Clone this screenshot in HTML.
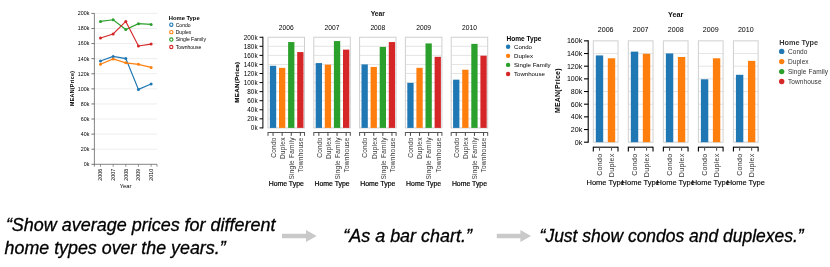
<!DOCTYPE html>
<html><head><meta charset="utf-8"><title>NL chart refinement</title>
<style>
html,body{margin:0;padding:0;background:#fff;width:830px;height:267px;overflow:hidden}
svg{display:block}
</style></head><body>
<svg width="830" height="267" viewBox="0 0 830 267" font-family="'Liberation Sans', Arial, Helvetica, sans-serif">
<g id="c1">
<line x1="91.4" y1="164.3" x2="94.4" y2="164.3" stroke="#666" stroke-width="0.9"/>
<text x="89.3" y="166.2" font-size="5.3" text-anchor="end" fill="#000">0k</text>
<line x1="94.4" y1="149.21" x2="157" y2="149.21" stroke="#e2e2e2" stroke-width="0.6"/>
<line x1="91.4" y1="149.21" x2="94.4" y2="149.21" stroke="#666" stroke-width="0.9"/>
<text x="89.3" y="151.11" font-size="5.3" text-anchor="end" fill="#000">20k</text>
<line x1="94.4" y1="134.12" x2="157" y2="134.12" stroke="#e2e2e2" stroke-width="0.6"/>
<line x1="91.4" y1="134.12" x2="94.4" y2="134.12" stroke="#666" stroke-width="0.9"/>
<text x="89.3" y="136.02" font-size="5.3" text-anchor="end" fill="#000">40k</text>
<line x1="94.4" y1="119.03" x2="157" y2="119.03" stroke="#e2e2e2" stroke-width="0.6"/>
<line x1="91.4" y1="119.03" x2="94.4" y2="119.03" stroke="#666" stroke-width="0.9"/>
<text x="89.3" y="120.93" font-size="5.3" text-anchor="end" fill="#000">60k</text>
<line x1="94.4" y1="103.94" x2="157" y2="103.94" stroke="#e2e2e2" stroke-width="0.6"/>
<line x1="91.4" y1="103.94" x2="94.4" y2="103.94" stroke="#666" stroke-width="0.9"/>
<text x="89.3" y="105.84" font-size="5.3" text-anchor="end" fill="#000">80k</text>
<line x1="94.4" y1="88.85" x2="157" y2="88.85" stroke="#e2e2e2" stroke-width="0.6"/>
<line x1="91.4" y1="88.85" x2="94.4" y2="88.85" stroke="#666" stroke-width="0.9"/>
<text x="89.3" y="90.75" font-size="5.3" text-anchor="end" fill="#000">100k</text>
<line x1="94.4" y1="73.76" x2="157" y2="73.76" stroke="#e2e2e2" stroke-width="0.6"/>
<line x1="91.4" y1="73.76" x2="94.4" y2="73.76" stroke="#666" stroke-width="0.9"/>
<text x="89.3" y="75.66" font-size="5.3" text-anchor="end" fill="#000">120k</text>
<line x1="94.4" y1="58.67" x2="157" y2="58.67" stroke="#e2e2e2" stroke-width="0.6"/>
<line x1="91.4" y1="58.67" x2="94.4" y2="58.67" stroke="#666" stroke-width="0.9"/>
<text x="89.3" y="60.57" font-size="5.3" text-anchor="end" fill="#000">140k</text>
<line x1="94.4" y1="43.58" x2="157" y2="43.58" stroke="#e2e2e2" stroke-width="0.6"/>
<line x1="91.4" y1="43.58" x2="94.4" y2="43.58" stroke="#666" stroke-width="0.9"/>
<text x="89.3" y="45.48" font-size="5.3" text-anchor="end" fill="#000">160k</text>
<line x1="94.4" y1="28.49" x2="157" y2="28.49" stroke="#e2e2e2" stroke-width="0.6"/>
<line x1="91.4" y1="28.49" x2="94.4" y2="28.49" stroke="#666" stroke-width="0.9"/>
<text x="89.3" y="30.39" font-size="5.3" text-anchor="end" fill="#000">180k</text>
<line x1="94.4" y1="13.4" x2="157" y2="13.4" stroke="#e2e2e2" stroke-width="0.6"/>
<line x1="91.4" y1="13.4" x2="94.4" y2="13.4" stroke="#666" stroke-width="0.9"/>
<text x="89.3" y="15.3" font-size="5.3" text-anchor="end" fill="#000">200k</text>
<line x1="94.4" y1="13.4" x2="94.4" y2="166.6" stroke="#666" stroke-width="0.8"/>
<line x1="94.4" y1="164.3" x2="157" y2="164.3" stroke="#666" stroke-width="0.8"/>
<line x1="100.5" y1="164.3" x2="100.5" y2="166.8" stroke="#666" stroke-width="0.7"/>
<line x1="113.15" y1="164.3" x2="113.15" y2="166.8" stroke="#666" stroke-width="0.7"/>
<line x1="125.8" y1="164.3" x2="125.8" y2="166.8" stroke="#666" stroke-width="0.7"/>
<line x1="138.45" y1="164.3" x2="138.45" y2="166.8" stroke="#666" stroke-width="0.7"/>
<line x1="151.1" y1="164.3" x2="151.1" y2="166.8" stroke="#666" stroke-width="0.7"/>
<line x1="157" y1="164.3" x2="157" y2="166.8" stroke="#666" stroke-width="0.7"/>
<text transform="translate(102.4,168.9) rotate(-90)" font-size="5.3" text-anchor="end" fill="#000">2006</text>
<text transform="translate(115.05,168.9) rotate(-90)" font-size="5.3" text-anchor="end" fill="#000">2007</text>
<text transform="translate(127.7,168.9) rotate(-90)" font-size="5.3" text-anchor="end" fill="#000">2008</text>
<text transform="translate(140.35,168.9) rotate(-90)" font-size="5.3" text-anchor="end" fill="#000">2009</text>
<text transform="translate(153,168.9) rotate(-90)" font-size="5.3" text-anchor="end" fill="#000">2010</text>
<text x="125.5" y="187.6" font-size="5.8" text-anchor="middle" fill="#000">Year</text>
<text transform="translate(73.9,88.3) rotate(-90)" font-size="5.3" letter-spacing="0.3" font-weight="bold" text-anchor="middle" fill="#000">MEAN(Price)</text>
<polyline points="100.5,60.93 113.15,56.41 125.8,58.59 138.45,89.38 151.1,84.02" fill="none" stroke="#1f77b4" stroke-width="1.15"/>
<circle cx="100.5" cy="60.93" r="1.5" fill="#1f77b4"/>
<circle cx="113.15" cy="56.41" r="1.5" fill="#1f77b4"/>
<circle cx="125.8" cy="58.59" r="1.5" fill="#1f77b4"/>
<circle cx="138.45" cy="89.38" r="1.5" fill="#1f77b4"/>
<circle cx="151.1" cy="84.02" r="1.5" fill="#1f77b4"/>
<polyline points="100.5,64.33 113.15,58.97 125.8,62.82 138.45,64.33 151.1,67.42" fill="none" stroke="#ff7f0e" stroke-width="1.15"/>
<circle cx="100.5" cy="64.33" r="1.5" fill="#ff7f0e"/>
<circle cx="113.15" cy="58.97" r="1.5" fill="#ff7f0e"/>
<circle cx="125.8" cy="62.82" r="1.5" fill="#ff7f0e"/>
<circle cx="138.45" cy="64.33" r="1.5" fill="#ff7f0e"/>
<circle cx="151.1" cy="67.42" r="1.5" fill="#ff7f0e"/>
<polyline points="100.5,21.4 113.15,19.74 125.8,29.47 138.45,23.66 151.1,24.42" fill="none" stroke="#2ca02c" stroke-width="1.15"/>
<circle cx="100.5" cy="21.4" r="1.5" fill="#2ca02c"/>
<circle cx="113.15" cy="19.74" r="1.5" fill="#2ca02c"/>
<circle cx="125.8" cy="29.47" r="1.5" fill="#2ca02c"/>
<circle cx="138.45" cy="23.66" r="1.5" fill="#2ca02c"/>
<circle cx="151.1" cy="24.42" r="1.5" fill="#2ca02c"/>
<polyline points="100.5,38.07 113.15,34 125.8,21.4 138.45,45.99 151.1,44.11" fill="none" stroke="#d62728" stroke-width="1.15"/>
<circle cx="100.5" cy="38.07" r="1.5" fill="#d62728"/>
<circle cx="113.15" cy="34" r="1.5" fill="#d62728"/>
<circle cx="125.8" cy="21.4" r="1.5" fill="#d62728"/>
<circle cx="138.45" cy="45.99" r="1.5" fill="#d62728"/>
<circle cx="151.1" cy="44.11" r="1.5" fill="#d62728"/>
<text x="168.8" y="20" font-size="5.8" font-weight="bold" fill="#000">Home Type</text>
<circle cx="171.3" cy="24.7" r="1.65" fill="none" stroke="#1f77b4" stroke-width="1.1"/>
<text x="175.7" y="26.5" font-size="5.05" fill="#000">Condo</text>
<circle cx="171.3" cy="32.13" r="1.65" fill="none" stroke="#ff7f0e" stroke-width="1.1"/>
<text x="175.7" y="33.93" font-size="5.05" fill="#000">Duplex</text>
<circle cx="171.3" cy="39.56" r="1.65" fill="none" stroke="#2ca02c" stroke-width="1.1"/>
<text x="175.7" y="41.36" font-size="5.05" fill="#000">Single Family</text>
<circle cx="171.3" cy="46.99" r="1.65" fill="none" stroke="#d62728" stroke-width="1.1"/>
<text x="175.7" y="48.79" font-size="5.05" fill="#000">Townhouse</text>
</g>
<g>
<line x1="259.5" y1="127.9" x2="262.9" y2="127.9" stroke="#000" stroke-width="1.0"/>
<text x="257.6" y="130.4" font-size="6.4" text-anchor="end" fill="#000">0k</text>
<line x1="259.5" y1="118.84" x2="262.9" y2="118.84" stroke="#000" stroke-width="1.0"/>
<text x="257.6" y="121.34" font-size="6.4" text-anchor="end" fill="#000">20k</text>
<line x1="259.5" y1="109.77" x2="262.9" y2="109.77" stroke="#000" stroke-width="1.0"/>
<text x="257.6" y="112.27" font-size="6.4" text-anchor="end" fill="#000">40k</text>
<line x1="259.5" y1="100.7" x2="262.9" y2="100.7" stroke="#000" stroke-width="1.0"/>
<text x="257.6" y="103.2" font-size="6.4" text-anchor="end" fill="#000">60k</text>
<line x1="259.5" y1="91.64" x2="262.9" y2="91.64" stroke="#000" stroke-width="1.0"/>
<text x="257.6" y="94.14" font-size="6.4" text-anchor="end" fill="#000">80k</text>
<line x1="259.5" y1="82.58" x2="262.9" y2="82.58" stroke="#000" stroke-width="1.0"/>
<text x="257.6" y="85.08" font-size="6.4" text-anchor="end" fill="#000">100k</text>
<line x1="259.5" y1="73.51" x2="262.9" y2="73.51" stroke="#000" stroke-width="1.0"/>
<text x="257.6" y="76.01" font-size="6.4" text-anchor="end" fill="#000">120k</text>
<line x1="259.5" y1="64.44" x2="262.9" y2="64.44" stroke="#000" stroke-width="1.0"/>
<text x="257.6" y="66.94" font-size="6.4" text-anchor="end" fill="#000">140k</text>
<line x1="259.5" y1="55.38" x2="262.9" y2="55.38" stroke="#000" stroke-width="1.0"/>
<text x="257.6" y="57.88" font-size="6.4" text-anchor="end" fill="#000">160k</text>
<line x1="259.5" y1="46.31" x2="262.9" y2="46.31" stroke="#000" stroke-width="1.0"/>
<text x="257.6" y="48.81" font-size="6.4" text-anchor="end" fill="#000">180k</text>
<line x1="259.5" y1="37.25" x2="262.9" y2="37.25" stroke="#000" stroke-width="1.0"/>
<text x="257.6" y="39.75" font-size="6.4" text-anchor="end" fill="#000">200k</text>
<line x1="262.9" y1="36.75" x2="262.9" y2="128.4" stroke="#000" stroke-width="1.0"/>
<text transform="translate(239.1,82.19) rotate(-90)" font-size="6.1" letter-spacing="0.38" font-weight="bold" text-anchor="middle" fill="#000" stroke="#000" stroke-width="0.15">MEAN(Price)</text>
<line x1="268" y1="118.84" x2="304.5" y2="118.84" stroke="#ddd" stroke-width="0.8"/>
<line x1="268" y1="109.77" x2="304.5" y2="109.77" stroke="#ddd" stroke-width="0.8"/>
<line x1="268" y1="100.7" x2="304.5" y2="100.7" stroke="#ddd" stroke-width="0.8"/>
<line x1="268" y1="91.64" x2="304.5" y2="91.64" stroke="#ddd" stroke-width="0.8"/>
<line x1="268" y1="82.58" x2="304.5" y2="82.58" stroke="#ddd" stroke-width="0.8"/>
<line x1="268" y1="73.51" x2="304.5" y2="73.51" stroke="#ddd" stroke-width="0.8"/>
<line x1="268" y1="64.44" x2="304.5" y2="64.44" stroke="#ddd" stroke-width="0.8"/>
<line x1="268" y1="55.38" x2="304.5" y2="55.38" stroke="#ddd" stroke-width="0.8"/>
<line x1="268" y1="46.31" x2="304.5" y2="46.31" stroke="#ddd" stroke-width="0.8"/>
<rect x="268" y="37.25" width="36.5" height="90.65" fill="none" stroke="#d0d0d0" stroke-width="1"/>
<text x="286.25" y="29.8" font-size="6.7" text-anchor="middle" fill="#000">2006</text>
<rect x="269.9" y="65.8" width="6.3" height="62.1" fill="#1f77b4"/>
<rect x="279" y="67.84" width="6.3" height="60.06" fill="#ff7f0e"/>
<rect x="288.1" y="42.05" width="6.3" height="85.85" fill="#2ca02c"/>
<rect x="297.2" y="52.07" width="6.3" height="75.83" fill="#d62728"/>
<line x1="268" y1="132.5" x2="304.5" y2="132.5" stroke="#555" stroke-width="1.0"/>
<line x1="268" y1="132" x2="268" y2="135.9" stroke="#555" stroke-width="1.0"/>
<line x1="304.5" y1="132" x2="304.5" y2="135.9" stroke="#555" stroke-width="1.0"/>
<line x1="273.05" y1="132.5" x2="273.05" y2="135.9" stroke="#444" stroke-width="1.0"/>
<line x1="282.15" y1="132.5" x2="282.15" y2="135.9" stroke="#444" stroke-width="1.0"/>
<line x1="291.25" y1="132.5" x2="291.25" y2="135.9" stroke="#444" stroke-width="1.0"/>
<line x1="300.35" y1="132.5" x2="300.35" y2="135.9" stroke="#444" stroke-width="1.0"/>
<text transform="translate(275.89,137.35) rotate(-90)" font-size="6.5" letter-spacing="0.25" text-anchor="end" fill="#333">Condo</text>
<text transform="translate(284.99,137.35) rotate(-90)" font-size="6.5" letter-spacing="0.25" text-anchor="end" fill="#333">Duplex</text>
<text transform="translate(294.09,137.35) rotate(-90)" font-size="6.5" letter-spacing="0.25" text-anchor="end" fill="#333">Single Family</text>
<text transform="translate(303.19,137.35) rotate(-90)" font-size="6.5" letter-spacing="0.25" text-anchor="end" fill="#333">Townhouse</text>
<text x="286.25" y="185.8" font-size="6.9" stroke="#000" stroke-width="0.2" text-anchor="middle" fill="#000">Home Type</text>
<line x1="313.8" y1="118.84" x2="350.3" y2="118.84" stroke="#ddd" stroke-width="0.8"/>
<line x1="313.8" y1="109.77" x2="350.3" y2="109.77" stroke="#ddd" stroke-width="0.8"/>
<line x1="313.8" y1="100.7" x2="350.3" y2="100.7" stroke="#ddd" stroke-width="0.8"/>
<line x1="313.8" y1="91.64" x2="350.3" y2="91.64" stroke="#ddd" stroke-width="0.8"/>
<line x1="313.8" y1="82.58" x2="350.3" y2="82.58" stroke="#ddd" stroke-width="0.8"/>
<line x1="313.8" y1="73.51" x2="350.3" y2="73.51" stroke="#ddd" stroke-width="0.8"/>
<line x1="313.8" y1="64.44" x2="350.3" y2="64.44" stroke="#ddd" stroke-width="0.8"/>
<line x1="313.8" y1="55.38" x2="350.3" y2="55.38" stroke="#ddd" stroke-width="0.8"/>
<line x1="313.8" y1="46.31" x2="350.3" y2="46.31" stroke="#ddd" stroke-width="0.8"/>
<rect x="313.8" y="37.25" width="36.5" height="90.65" fill="none" stroke="#d0d0d0" stroke-width="1"/>
<text x="332.05" y="29.8" font-size="6.7" text-anchor="middle" fill="#000">2007</text>
<rect x="315.7" y="63.09" width="6.3" height="64.81" fill="#1f77b4"/>
<rect x="324.8" y="64.63" width="6.3" height="63.27" fill="#ff7f0e"/>
<rect x="333.9" y="41.06" width="6.3" height="86.84" fill="#2ca02c"/>
<rect x="343" y="49.62" width="6.3" height="78.28" fill="#d62728"/>
<line x1="313.8" y1="132.5" x2="350.3" y2="132.5" stroke="#555" stroke-width="1.0"/>
<line x1="313.8" y1="132" x2="313.8" y2="135.9" stroke="#555" stroke-width="1.0"/>
<line x1="350.3" y1="132" x2="350.3" y2="135.9" stroke="#555" stroke-width="1.0"/>
<line x1="318.85" y1="132.5" x2="318.85" y2="135.9" stroke="#444" stroke-width="1.0"/>
<line x1="327.95" y1="132.5" x2="327.95" y2="135.9" stroke="#444" stroke-width="1.0"/>
<line x1="337.05" y1="132.5" x2="337.05" y2="135.9" stroke="#444" stroke-width="1.0"/>
<line x1="346.15" y1="132.5" x2="346.15" y2="135.9" stroke="#444" stroke-width="1.0"/>
<text transform="translate(321.69,137.35) rotate(-90)" font-size="6.5" letter-spacing="0.25" text-anchor="end" fill="#333">Condo</text>
<text transform="translate(330.79,137.35) rotate(-90)" font-size="6.5" letter-spacing="0.25" text-anchor="end" fill="#333">Duplex</text>
<text transform="translate(339.89,137.35) rotate(-90)" font-size="6.5" letter-spacing="0.25" text-anchor="end" fill="#333">Single Family</text>
<text transform="translate(348.99,137.35) rotate(-90)" font-size="6.5" letter-spacing="0.25" text-anchor="end" fill="#333">Townhouse</text>
<text x="332.05" y="185.8" font-size="6.9" stroke="#000" stroke-width="0.2" text-anchor="middle" fill="#000">Home Type</text>
<line x1="359.6" y1="118.84" x2="396.1" y2="118.84" stroke="#ddd" stroke-width="0.8"/>
<line x1="359.6" y1="109.77" x2="396.1" y2="109.77" stroke="#ddd" stroke-width="0.8"/>
<line x1="359.6" y1="100.7" x2="396.1" y2="100.7" stroke="#ddd" stroke-width="0.8"/>
<line x1="359.6" y1="91.64" x2="396.1" y2="91.64" stroke="#ddd" stroke-width="0.8"/>
<line x1="359.6" y1="82.58" x2="396.1" y2="82.58" stroke="#ddd" stroke-width="0.8"/>
<line x1="359.6" y1="73.51" x2="396.1" y2="73.51" stroke="#ddd" stroke-width="0.8"/>
<line x1="359.6" y1="64.44" x2="396.1" y2="64.44" stroke="#ddd" stroke-width="0.8"/>
<line x1="359.6" y1="55.38" x2="396.1" y2="55.38" stroke="#ddd" stroke-width="0.8"/>
<line x1="359.6" y1="46.31" x2="396.1" y2="46.31" stroke="#ddd" stroke-width="0.8"/>
<rect x="359.6" y="37.25" width="36.5" height="90.65" fill="none" stroke="#d0d0d0" stroke-width="1"/>
<text x="377.85" y="29.8" font-size="6.7" text-anchor="middle" fill="#000">2008</text>
<rect x="361.5" y="64.4" width="6.3" height="63.5" fill="#1f77b4"/>
<rect x="370.6" y="66.94" width="6.3" height="60.96" fill="#ff7f0e"/>
<rect x="379.7" y="46.9" width="6.3" height="81" fill="#2ca02c"/>
<rect x="388.8" y="42.05" width="6.3" height="85.85" fill="#d62728"/>
<line x1="359.6" y1="132.5" x2="396.1" y2="132.5" stroke="#555" stroke-width="1.0"/>
<line x1="359.6" y1="132" x2="359.6" y2="135.9" stroke="#555" stroke-width="1.0"/>
<line x1="396.1" y1="132" x2="396.1" y2="135.9" stroke="#555" stroke-width="1.0"/>
<line x1="364.65" y1="132.5" x2="364.65" y2="135.9" stroke="#444" stroke-width="1.0"/>
<line x1="373.75" y1="132.5" x2="373.75" y2="135.9" stroke="#444" stroke-width="1.0"/>
<line x1="382.85" y1="132.5" x2="382.85" y2="135.9" stroke="#444" stroke-width="1.0"/>
<line x1="391.95" y1="132.5" x2="391.95" y2="135.9" stroke="#444" stroke-width="1.0"/>
<text transform="translate(367.49,137.35) rotate(-90)" font-size="6.5" letter-spacing="0.25" text-anchor="end" fill="#333">Condo</text>
<text transform="translate(376.59,137.35) rotate(-90)" font-size="6.5" letter-spacing="0.25" text-anchor="end" fill="#333">Duplex</text>
<text transform="translate(385.69,137.35) rotate(-90)" font-size="6.5" letter-spacing="0.25" text-anchor="end" fill="#333">Single Family</text>
<text transform="translate(394.79,137.35) rotate(-90)" font-size="6.5" letter-spacing="0.25" text-anchor="end" fill="#333">Townhouse</text>
<text x="377.85" y="185.8" font-size="6.9" stroke="#000" stroke-width="0.2" text-anchor="middle" fill="#000">Home Type</text>
<line x1="405.4" y1="118.84" x2="441.9" y2="118.84" stroke="#ddd" stroke-width="0.8"/>
<line x1="405.4" y1="109.77" x2="441.9" y2="109.77" stroke="#ddd" stroke-width="0.8"/>
<line x1="405.4" y1="100.7" x2="441.9" y2="100.7" stroke="#ddd" stroke-width="0.8"/>
<line x1="405.4" y1="91.64" x2="441.9" y2="91.64" stroke="#ddd" stroke-width="0.8"/>
<line x1="405.4" y1="82.58" x2="441.9" y2="82.58" stroke="#ddd" stroke-width="0.8"/>
<line x1="405.4" y1="73.51" x2="441.9" y2="73.51" stroke="#ddd" stroke-width="0.8"/>
<line x1="405.4" y1="64.44" x2="441.9" y2="64.44" stroke="#ddd" stroke-width="0.8"/>
<line x1="405.4" y1="55.38" x2="441.9" y2="55.38" stroke="#ddd" stroke-width="0.8"/>
<line x1="405.4" y1="46.31" x2="441.9" y2="46.31" stroke="#ddd" stroke-width="0.8"/>
<rect x="405.4" y="37.25" width="36.5" height="90.65" fill="none" stroke="#d0d0d0" stroke-width="1"/>
<text x="423.65" y="29.8" font-size="6.7" text-anchor="middle" fill="#000">2009</text>
<rect x="407.3" y="82.89" width="6.3" height="45.01" fill="#1f77b4"/>
<rect x="416.4" y="67.84" width="6.3" height="60.06" fill="#ff7f0e"/>
<rect x="425.5" y="43.41" width="6.3" height="84.49" fill="#2ca02c"/>
<rect x="434.6" y="56.83" width="6.3" height="71.07" fill="#d62728"/>
<line x1="405.4" y1="132.5" x2="441.9" y2="132.5" stroke="#555" stroke-width="1.0"/>
<line x1="405.4" y1="132" x2="405.4" y2="135.9" stroke="#555" stroke-width="1.0"/>
<line x1="441.9" y1="132" x2="441.9" y2="135.9" stroke="#555" stroke-width="1.0"/>
<line x1="410.45" y1="132.5" x2="410.45" y2="135.9" stroke="#444" stroke-width="1.0"/>
<line x1="419.55" y1="132.5" x2="419.55" y2="135.9" stroke="#444" stroke-width="1.0"/>
<line x1="428.65" y1="132.5" x2="428.65" y2="135.9" stroke="#444" stroke-width="1.0"/>
<line x1="437.75" y1="132.5" x2="437.75" y2="135.9" stroke="#444" stroke-width="1.0"/>
<text transform="translate(413.29,137.35) rotate(-90)" font-size="6.5" letter-spacing="0.25" text-anchor="end" fill="#333">Condo</text>
<text transform="translate(422.39,137.35) rotate(-90)" font-size="6.5" letter-spacing="0.25" text-anchor="end" fill="#333">Duplex</text>
<text transform="translate(431.49,137.35) rotate(-90)" font-size="6.5" letter-spacing="0.25" text-anchor="end" fill="#333">Single Family</text>
<text transform="translate(440.59,137.35) rotate(-90)" font-size="6.5" letter-spacing="0.25" text-anchor="end" fill="#333">Townhouse</text>
<text x="423.65" y="185.8" font-size="6.9" stroke="#000" stroke-width="0.2" text-anchor="middle" fill="#000">Home Type</text>
<line x1="451.2" y1="118.84" x2="487.7" y2="118.84" stroke="#ddd" stroke-width="0.8"/>
<line x1="451.2" y1="109.77" x2="487.7" y2="109.77" stroke="#ddd" stroke-width="0.8"/>
<line x1="451.2" y1="100.7" x2="487.7" y2="100.7" stroke="#ddd" stroke-width="0.8"/>
<line x1="451.2" y1="91.64" x2="487.7" y2="91.64" stroke="#ddd" stroke-width="0.8"/>
<line x1="451.2" y1="82.58" x2="487.7" y2="82.58" stroke="#ddd" stroke-width="0.8"/>
<line x1="451.2" y1="73.51" x2="487.7" y2="73.51" stroke="#ddd" stroke-width="0.8"/>
<line x1="451.2" y1="64.44" x2="487.7" y2="64.44" stroke="#ddd" stroke-width="0.8"/>
<line x1="451.2" y1="55.38" x2="487.7" y2="55.38" stroke="#ddd" stroke-width="0.8"/>
<line x1="451.2" y1="46.31" x2="487.7" y2="46.31" stroke="#ddd" stroke-width="0.8"/>
<rect x="451.2" y="37.25" width="36.5" height="90.65" fill="none" stroke="#d0d0d0" stroke-width="1"/>
<text x="469.45" y="29.8" font-size="6.7" text-anchor="middle" fill="#000">2010</text>
<rect x="453.1" y="79.67" width="6.3" height="48.23" fill="#1f77b4"/>
<rect x="462.2" y="69.7" width="6.3" height="58.2" fill="#ff7f0e"/>
<rect x="471.3" y="43.87" width="6.3" height="84.03" fill="#2ca02c"/>
<rect x="480.4" y="55.7" width="6.3" height="72.2" fill="#d62728"/>
<line x1="451.2" y1="132.5" x2="487.7" y2="132.5" stroke="#555" stroke-width="1.0"/>
<line x1="451.2" y1="132" x2="451.2" y2="135.9" stroke="#555" stroke-width="1.0"/>
<line x1="487.7" y1="132" x2="487.7" y2="135.9" stroke="#555" stroke-width="1.0"/>
<line x1="456.25" y1="132.5" x2="456.25" y2="135.9" stroke="#444" stroke-width="1.0"/>
<line x1="465.35" y1="132.5" x2="465.35" y2="135.9" stroke="#444" stroke-width="1.0"/>
<line x1="474.45" y1="132.5" x2="474.45" y2="135.9" stroke="#444" stroke-width="1.0"/>
<line x1="483.55" y1="132.5" x2="483.55" y2="135.9" stroke="#444" stroke-width="1.0"/>
<text transform="translate(459.09,137.35) rotate(-90)" font-size="6.5" letter-spacing="0.25" text-anchor="end" fill="#333">Condo</text>
<text transform="translate(468.19,137.35) rotate(-90)" font-size="6.5" letter-spacing="0.25" text-anchor="end" fill="#333">Duplex</text>
<text transform="translate(477.29,137.35) rotate(-90)" font-size="6.5" letter-spacing="0.25" text-anchor="end" fill="#333">Single Family</text>
<text transform="translate(486.39,137.35) rotate(-90)" font-size="6.5" letter-spacing="0.25" text-anchor="end" fill="#333">Townhouse</text>
<text x="469.45" y="185.8" font-size="6.9" stroke="#000" stroke-width="0.2" text-anchor="middle" fill="#000">Home Type</text>
<text x="377.85" y="16" font-size="6.8" font-weight="bold" text-anchor="middle" fill="#111">Year</text>
<text x="506.5" y="40.8" font-size="6.55" font-weight="bold" fill="#000">Home Type</text>
<circle cx="508.1" cy="46.8" r="2.2" fill="#1f77b4"/>
<text x="514" y="49" font-size="6.1" letter-spacing="0" fill="#000">Condo</text>
<circle cx="508.1" cy="55.85" r="2.2" fill="#ff7f0e"/>
<text x="514" y="58.05" font-size="6.1" letter-spacing="0" fill="#000">Duplex</text>
<circle cx="508.1" cy="64.9" r="2.2" fill="#2ca02c"/>
<text x="514" y="67.1" font-size="6.1" letter-spacing="0" fill="#000">Single Family</text>
<circle cx="508.1" cy="73.95" r="2.2" fill="#d62728"/>
<text x="514" y="76.15" font-size="6.1" letter-spacing="0" fill="#000">Townhouse</text>
</g>
<g>
<line x1="584" y1="142.2" x2="588.2" y2="142.2" stroke="#000" stroke-width="1.1"/>
<text x="582.3" y="144.8" font-size="7.1" text-anchor="end" fill="#000">0k</text>
<line x1="584" y1="129.53" x2="588.2" y2="129.53" stroke="#000" stroke-width="1.1"/>
<text x="582.3" y="132.13" font-size="7.1" text-anchor="end" fill="#000">20k</text>
<line x1="584" y1="116.86" x2="588.2" y2="116.86" stroke="#000" stroke-width="1.1"/>
<text x="582.3" y="119.46" font-size="7.1" text-anchor="end" fill="#000">40k</text>
<line x1="584" y1="104.19" x2="588.2" y2="104.19" stroke="#000" stroke-width="1.1"/>
<text x="582.3" y="106.79" font-size="7.1" text-anchor="end" fill="#000">60k</text>
<line x1="584" y1="91.52" x2="588.2" y2="91.52" stroke="#000" stroke-width="1.1"/>
<text x="582.3" y="94.12" font-size="7.1" text-anchor="end" fill="#000">80k</text>
<line x1="584" y1="78.86" x2="588.2" y2="78.86" stroke="#000" stroke-width="1.1"/>
<text x="582.3" y="81.46" font-size="7.1" text-anchor="end" fill="#000">100k</text>
<line x1="584" y1="66.19" x2="588.2" y2="66.19" stroke="#000" stroke-width="1.1"/>
<text x="582.3" y="68.79" font-size="7.1" text-anchor="end" fill="#000">120k</text>
<line x1="584" y1="53.52" x2="588.2" y2="53.52" stroke="#000" stroke-width="1.1"/>
<text x="582.3" y="56.12" font-size="7.1" text-anchor="end" fill="#000">140k</text>
<line x1="584" y1="40.85" x2="588.2" y2="40.85" stroke="#000" stroke-width="1.1"/>
<text x="582.3" y="43.45" font-size="7.1" text-anchor="end" fill="#000">160k</text>
<line x1="588.2" y1="40.3" x2="588.2" y2="142.75" stroke="#000" stroke-width="1.1"/>
<text transform="translate(560,90.71) rotate(-90)" font-size="7.0" letter-spacing="0.22" font-weight="bold" text-anchor="middle" fill="#000" stroke="#000" stroke-width="0">MEAN(Price)</text>
<line x1="593.3" y1="129.53" x2="618" y2="129.53" stroke="#ddd" stroke-width="0.8"/>
<line x1="593.3" y1="116.86" x2="618" y2="116.86" stroke="#ddd" stroke-width="0.8"/>
<line x1="593.3" y1="104.19" x2="618" y2="104.19" stroke="#ddd" stroke-width="0.8"/>
<line x1="593.3" y1="91.52" x2="618" y2="91.52" stroke="#ddd" stroke-width="0.8"/>
<line x1="593.3" y1="78.86" x2="618" y2="78.86" stroke="#ddd" stroke-width="0.8"/>
<line x1="593.3" y1="66.19" x2="618" y2="66.19" stroke="#ddd" stroke-width="0.8"/>
<line x1="593.3" y1="53.52" x2="618" y2="53.52" stroke="#ddd" stroke-width="0.8"/>
<rect x="593.3" y="40.85" width="24.7" height="101.35" fill="none" stroke="#d0d0d0" stroke-width="1"/>
<text x="605.65" y="31.8" font-size="7.1" text-anchor="middle" fill="#000">2006</text>
<rect x="595.8" y="55.42" width="7.4" height="86.78" fill="#1f77b4"/>
<rect x="607.8" y="58.27" width="7.4" height="83.93" fill="#ff7f0e"/>
<line x1="593.3" y1="147.2" x2="618" y2="147.2" stroke="#000" stroke-width="1.1"/>
<line x1="593.3" y1="146.65" x2="593.3" y2="151.4" stroke="#000" stroke-width="1.1"/>
<line x1="618" y1="146.65" x2="618" y2="151.4" stroke="#000" stroke-width="1.1"/>
<line x1="599.5" y1="147.2" x2="599.5" y2="150.7" stroke="#555" stroke-width="1.1"/>
<line x1="611.5" y1="147.2" x2="611.5" y2="150.7" stroke="#555" stroke-width="1.1"/>
<text transform="translate(602.36,153.4) rotate(-90)" font-size="7.1" letter-spacing="0.3" text-anchor="end" fill="#333">Condo</text>
<text transform="translate(614.36,153.4) rotate(-90)" font-size="7.1" letter-spacing="0.3" text-anchor="end" fill="#333">Duplex</text>
<text x="605.65" y="185.3" font-size="7.5" stroke="#000" stroke-width="0.12" text-anchor="middle" fill="#000">Home Type</text>
<line x1="628.33" y1="129.53" x2="653.03" y2="129.53" stroke="#ddd" stroke-width="0.8"/>
<line x1="628.33" y1="116.86" x2="653.03" y2="116.86" stroke="#ddd" stroke-width="0.8"/>
<line x1="628.33" y1="104.19" x2="653.03" y2="104.19" stroke="#ddd" stroke-width="0.8"/>
<line x1="628.33" y1="91.52" x2="653.03" y2="91.52" stroke="#ddd" stroke-width="0.8"/>
<line x1="628.33" y1="78.86" x2="653.03" y2="78.86" stroke="#ddd" stroke-width="0.8"/>
<line x1="628.33" y1="66.19" x2="653.03" y2="66.19" stroke="#ddd" stroke-width="0.8"/>
<line x1="628.33" y1="53.52" x2="653.03" y2="53.52" stroke="#ddd" stroke-width="0.8"/>
<rect x="628.33" y="40.85" width="24.7" height="101.35" fill="none" stroke="#d0d0d0" stroke-width="1"/>
<text x="640.68" y="31.8" font-size="7.1" text-anchor="middle" fill="#000">2007</text>
<rect x="630.83" y="51.62" width="7.4" height="90.58" fill="#1f77b4"/>
<rect x="642.83" y="53.77" width="7.4" height="88.43" fill="#ff7f0e"/>
<line x1="628.33" y1="147.2" x2="653.03" y2="147.2" stroke="#000" stroke-width="1.1"/>
<line x1="628.33" y1="146.65" x2="628.33" y2="151.4" stroke="#000" stroke-width="1.1"/>
<line x1="653.03" y1="146.65" x2="653.03" y2="151.4" stroke="#000" stroke-width="1.1"/>
<line x1="634.53" y1="147.2" x2="634.53" y2="150.7" stroke="#555" stroke-width="1.1"/>
<line x1="646.53" y1="147.2" x2="646.53" y2="150.7" stroke="#555" stroke-width="1.1"/>
<text transform="translate(637.39,153.4) rotate(-90)" font-size="7.1" letter-spacing="0.3" text-anchor="end" fill="#333">Condo</text>
<text transform="translate(649.39,153.4) rotate(-90)" font-size="7.1" letter-spacing="0.3" text-anchor="end" fill="#333">Duplex</text>
<text x="640.68" y="185.3" font-size="7.5" stroke="#000" stroke-width="0.12" text-anchor="middle" fill="#000">Home Type</text>
<line x1="663.36" y1="129.53" x2="688.06" y2="129.53" stroke="#ddd" stroke-width="0.8"/>
<line x1="663.36" y1="116.86" x2="688.06" y2="116.86" stroke="#ddd" stroke-width="0.8"/>
<line x1="663.36" y1="104.19" x2="688.06" y2="104.19" stroke="#ddd" stroke-width="0.8"/>
<line x1="663.36" y1="91.52" x2="688.06" y2="91.52" stroke="#ddd" stroke-width="0.8"/>
<line x1="663.36" y1="78.86" x2="688.06" y2="78.86" stroke="#ddd" stroke-width="0.8"/>
<line x1="663.36" y1="66.19" x2="688.06" y2="66.19" stroke="#ddd" stroke-width="0.8"/>
<line x1="663.36" y1="53.52" x2="688.06" y2="53.52" stroke="#ddd" stroke-width="0.8"/>
<rect x="663.36" y="40.85" width="24.7" height="101.35" fill="none" stroke="#d0d0d0" stroke-width="1"/>
<text x="675.71" y="31.8" font-size="7.1" text-anchor="middle" fill="#000">2008</text>
<rect x="665.86" y="53.46" width="7.4" height="88.74" fill="#1f77b4"/>
<rect x="677.86" y="57" width="7.4" height="85.2" fill="#ff7f0e"/>
<line x1="663.36" y1="147.2" x2="688.06" y2="147.2" stroke="#000" stroke-width="1.1"/>
<line x1="663.36" y1="146.65" x2="663.36" y2="151.4" stroke="#000" stroke-width="1.1"/>
<line x1="688.06" y1="146.65" x2="688.06" y2="151.4" stroke="#000" stroke-width="1.1"/>
<line x1="669.56" y1="147.2" x2="669.56" y2="150.7" stroke="#555" stroke-width="1.1"/>
<line x1="681.56" y1="147.2" x2="681.56" y2="150.7" stroke="#555" stroke-width="1.1"/>
<text transform="translate(672.42,153.4) rotate(-90)" font-size="7.1" letter-spacing="0.3" text-anchor="end" fill="#333">Condo</text>
<text transform="translate(684.42,153.4) rotate(-90)" font-size="7.1" letter-spacing="0.3" text-anchor="end" fill="#333">Duplex</text>
<text x="675.71" y="185.3" font-size="7.5" stroke="#000" stroke-width="0.12" text-anchor="middle" fill="#000">Home Type</text>
<line x1="698.39" y1="129.53" x2="723.09" y2="129.53" stroke="#ddd" stroke-width="0.8"/>
<line x1="698.39" y1="116.86" x2="723.09" y2="116.86" stroke="#ddd" stroke-width="0.8"/>
<line x1="698.39" y1="104.19" x2="723.09" y2="104.19" stroke="#ddd" stroke-width="0.8"/>
<line x1="698.39" y1="91.52" x2="723.09" y2="91.52" stroke="#ddd" stroke-width="0.8"/>
<line x1="698.39" y1="78.86" x2="723.09" y2="78.86" stroke="#ddd" stroke-width="0.8"/>
<line x1="698.39" y1="66.19" x2="723.09" y2="66.19" stroke="#ddd" stroke-width="0.8"/>
<line x1="698.39" y1="53.52" x2="723.09" y2="53.52" stroke="#ddd" stroke-width="0.8"/>
<rect x="698.39" y="40.85" width="24.7" height="101.35" fill="none" stroke="#d0d0d0" stroke-width="1"/>
<text x="710.74" y="31.8" font-size="7.1" text-anchor="middle" fill="#000">2009</text>
<rect x="700.89" y="79.3" width="7.4" height="62.9" fill="#1f77b4"/>
<rect x="712.89" y="58.27" width="7.4" height="83.93" fill="#ff7f0e"/>
<line x1="698.39" y1="147.2" x2="723.09" y2="147.2" stroke="#000" stroke-width="1.1"/>
<line x1="698.39" y1="146.65" x2="698.39" y2="151.4" stroke="#000" stroke-width="1.1"/>
<line x1="723.09" y1="146.65" x2="723.09" y2="151.4" stroke="#000" stroke-width="1.1"/>
<line x1="704.59" y1="147.2" x2="704.59" y2="150.7" stroke="#555" stroke-width="1.1"/>
<line x1="716.59" y1="147.2" x2="716.59" y2="150.7" stroke="#555" stroke-width="1.1"/>
<text transform="translate(707.45,153.4) rotate(-90)" font-size="7.1" letter-spacing="0.3" text-anchor="end" fill="#333">Condo</text>
<text transform="translate(719.45,153.4) rotate(-90)" font-size="7.1" letter-spacing="0.3" text-anchor="end" fill="#333">Duplex</text>
<text x="710.74" y="185.3" font-size="7.5" stroke="#000" stroke-width="0.12" text-anchor="middle" fill="#000">Home Type</text>
<line x1="733.42" y1="129.53" x2="758.12" y2="129.53" stroke="#ddd" stroke-width="0.8"/>
<line x1="733.42" y1="116.86" x2="758.12" y2="116.86" stroke="#ddd" stroke-width="0.8"/>
<line x1="733.42" y1="104.19" x2="758.12" y2="104.19" stroke="#ddd" stroke-width="0.8"/>
<line x1="733.42" y1="91.52" x2="758.12" y2="91.52" stroke="#ddd" stroke-width="0.8"/>
<line x1="733.42" y1="78.86" x2="758.12" y2="78.86" stroke="#ddd" stroke-width="0.8"/>
<line x1="733.42" y1="66.19" x2="758.12" y2="66.19" stroke="#ddd" stroke-width="0.8"/>
<line x1="733.42" y1="53.52" x2="758.12" y2="53.52" stroke="#ddd" stroke-width="0.8"/>
<rect x="733.42" y="40.85" width="24.7" height="101.35" fill="none" stroke="#d0d0d0" stroke-width="1"/>
<text x="745.77" y="31.8" font-size="7.1" text-anchor="middle" fill="#000">2010</text>
<rect x="735.92" y="74.8" width="7.4" height="67.4" fill="#1f77b4"/>
<rect x="747.92" y="60.87" width="7.4" height="81.33" fill="#ff7f0e"/>
<line x1="733.42" y1="147.2" x2="758.12" y2="147.2" stroke="#000" stroke-width="1.1"/>
<line x1="733.42" y1="146.65" x2="733.42" y2="151.4" stroke="#000" stroke-width="1.1"/>
<line x1="758.12" y1="146.65" x2="758.12" y2="151.4" stroke="#000" stroke-width="1.1"/>
<line x1="739.62" y1="147.2" x2="739.62" y2="150.7" stroke="#555" stroke-width="1.1"/>
<line x1="751.62" y1="147.2" x2="751.62" y2="150.7" stroke="#555" stroke-width="1.1"/>
<text transform="translate(742.48,153.4) rotate(-90)" font-size="7.1" letter-spacing="0.3" text-anchor="end" fill="#333">Condo</text>
<text transform="translate(754.48,153.4) rotate(-90)" font-size="7.1" letter-spacing="0.3" text-anchor="end" fill="#333">Duplex</text>
<text x="745.77" y="185.3" font-size="7.5" stroke="#000" stroke-width="0.12" text-anchor="middle" fill="#000">Home Type</text>
<text x="675.71" y="16.6" font-size="7.3" font-weight="bold" text-anchor="middle" fill="#111">Year</text>
<text x="779.2" y="44.7" font-size="7.3" font-weight="bold" fill-opacity="0.8" fill="#000">Home Type</text>
<circle cx="781.7" cy="51.4" r="2.7" fill="#1f77b4"/>
<text x="787.9" y="53.74" font-size="6.5" letter-spacing="0.1" fill="#333">Condo</text>
<circle cx="781.7" cy="61.6" r="2.7" fill="#ff7f0e"/>
<text x="787.9" y="63.94" font-size="6.5" letter-spacing="0.1" fill="#333">Duplex</text>
<circle cx="781.7" cy="71.6" r="2.7" fill="#2ca02c"/>
<text x="787.9" y="73.94" font-size="6.5" letter-spacing="0.1" fill="#333">Single Family</text>
<circle cx="781.7" cy="81.5" r="2.7" fill="#d62728"/>
<text x="787.9" y="83.84" font-size="6.5" letter-spacing="0.1" fill="#333">Townhouse</text>
</g>
<g font-family="'Liberation Sans', Arial, sans-serif" font-style="italic" font-size="17.6" fill="#000" stroke="#000" stroke-width="0.3">
<text x="5.9" y="230.6" textLength="269.6" lengthAdjust="spacingAndGlyphs">“Show average prices for different</text>
<text x="4.6" y="254.0" textLength="221" lengthAdjust="spacingAndGlyphs">home types over the years.”</text>
<text x="343.3" y="242" textLength="128.6" lengthAdjust="spacingAndGlyphs">“As a bar chart.”</text>
<text x="539.6" y="242.1" textLength="264.1" lengthAdjust="spacingAndGlyphs">“Just show condos and duplexes.”</text>
</g>
<polygon points="282,233.7 306,233.7 306,230 316.7,235.95 306,241.9 306,238.2 282,238.2" fill="#c9c9c9"/>
<polygon points="496.8,233.7 520.4,233.7 520.4,230 531,235.95 520.4,241.9 520.4,238.2 496.8,238.2" fill="#c9c9c9"/>
</svg>
</body></html>
